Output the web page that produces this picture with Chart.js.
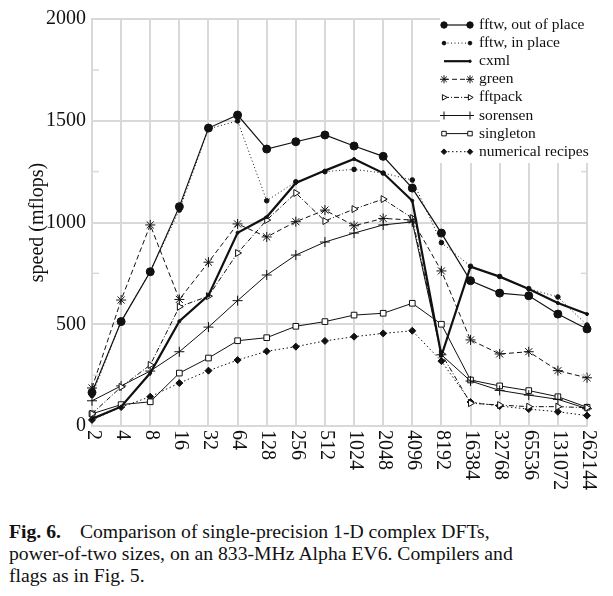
<!DOCTYPE html>
<html>
<head>
<meta charset="utf-8">
<script src="https://cdn.jsdelivr.net/npm/chart.js@4.4.1/dist/chart.umd.min.js"></script>
<style>
  html, body { margin: 0; padding: 0; background: #fff; }
  #wrap { position: relative; width: 613px; height: 596px; }
  canvas { position: absolute; left: 0; top: 0; }
  #caption { position: absolute; left: 9px; top: 520px; width: 604px;
    font-family: "Liberation Serif", "Times New Roman", serif; font-size: 19.7px; line-height: 22px; color: #111; white-space: nowrap; }
  #caption b { margin-right: 14px; }
</style>
</head>
<body>
<div id="wrap">
  <canvas id="c" width="613" height="510"></canvas>
  <div id="caption"><b>Fig. 6.</b> Comparison of single-precision 1-D complex DFTs,<br>power-of-two sizes, on an 833-MHz Alpha EV6. Compilers and<br>flags as in Fig. 5.</div>
</div>
<script>
const categories = ['2','4','8','16','32','64','128','256','512','1024','2048','4096','8192','16384','32768','65536','131072','262144'];
const seriesNames = ['fftw, out of place','fftw, in place','cxml','green','fftpack','sorensen','singleton','numerical recipes'];
const fftwOut   = [165, 513, 758, 1078, 1464, 1528, 1361, 1397, 1430, 1376, 1325, 1169, 948, 714, 653, 640, 550, 477];
const fftwIn    = [150, 515, 760, 1061, 1460, 1499, 1107, 1200, 1250, 1261, 1243, 1209, 901, 785, 735, 675, 634, 496];
const cxml      = [35, 95, 260, 515, 642, 950, 1027, 1194, 1255, 1312, 1243, 1107, 345, 783, 734, 673, 604, 550];
const green     = [187, 619, 988, 622, 805, 993, 929, 1004, 1061, 984, 1020, 1012, 762, 423, 354, 365, 272, 237];
const fftpack   = [60, 192, 300, 586, 638, 850, 1012, 1145, 1007, 1066, 1115, 1022, 355, 112, 103, 95, 95, 90];
const sorensen  = [124, 197, 270, 365, 486, 616, 742, 840, 904, 948, 988, 1003, 350, 221, 175, 152, 131, 85];
const singleton = [60, 105, 119, 260, 334, 419, 434, 490, 513, 545, 554, 603, 500, 226, 197, 174, 144, 92];
const numrec    = [30, 93, 144, 211, 272, 324, 367, 390, 418, 439, 455, 468, 319, 118, 98, 83, 70, 51];
const yTicksMajor = [0, 500, 1000, 1500, 2000];

const INK = '#111';
const GRID = '#d9d9d9';
const SERIF = '"Liberation Serif", "Times New Roman", serif';

function ds(label, data, o) {
  return Object.assign({
    label, data,
    borderColor: INK, backgroundColor: INK,
    pointBackgroundColor: INK, pointBorderColor: INK,
    pointBorderWidth: 1, borderWidth: 1, tension: 0, fill: false,
    pointHoverRadius: 0
  }, o);
}

const datasets = [
  ds(seriesNames[0], fftwOut,   { borderWidth: 1.2, pointStyle: 'circle', pointRadius: 4 }),
  ds(seriesNames[1], fftwIn,    { borderDash: [1, 2.5], pointStyle: 'circle', pointRadius: 2.3 }),
  ds(seriesNames[2], cxml,      { borderWidth: 2.2, pointStyle: 'circle', pointRadius: 1.5 }),
  ds(seriesNames[3], green,     { borderDash: [5, 3], pointStyle: 'star', pointRadius: 5 }),
  ds(seriesNames[4], fftpack,   { borderDash: [5, 2, 1, 2], pointStyle: 'triangle', pointRotation: 90, pointRadius: 4, pointBackgroundColor: '#fff' }),
  ds(seriesNames[5], sorensen,  { pointStyle: 'cross', pointRadius: 5 }),
  ds(seriesNames[6], singleton, { pointStyle: 'rect', pointRadius: 4, pointBackgroundColor: '#fff' }),
  ds(seriesNames[7], numrec,    { borderDash: [1.5, 2.5], pointStyle: 'rectRot', pointRadius: 3.5 })
];

const decorPlugin = {
  id: 'decor',
  afterDraw(chart) {
    const ctx = chart.ctx, a = chart.chartArea;
    const xs = chart.scales.x, ys = chart.scales.y;
    ctx.save();
    // minor ticks (inside) on left and right
    ctx.strokeStyle = GRID; ctx.lineWidth = 1.5;
    for (let v = 250; v < 2000; v += 500) {
      const y = ys.getPixelForValue(v);
      ctx.beginPath(); ctx.moveTo(a.left, y); ctx.lineTo(a.left + 7, y); ctx.stroke();
      ctx.beginPath(); ctx.moveTo(a.right - 6, y); ctx.lineTo(a.right, y); ctx.stroke();
    }
    // x labels rotated clockwise
    ctx.fillStyle = INK;
    ctx.font = '20px "Liberation Serif"';
    ctx.textAlign = 'left'; ctx.textBaseline = 'middle';
    categories.forEach((lab, i) => {
      const x = xs.getPixelForValue(i);
      ctx.save();
      ctx.translate(x + 1, a.bottom + 4);
      ctx.rotate(Math.PI / 2);
      ctx.fillText(xs.getLabelForValue(i), 0, 0);
      ctx.restore();
    });
    // legend
    ctx.fillStyle = '#fff';
    ctx.fillRect(440, a.top - 3, chart.width - 440, 163 - (a.top - 3));
    const dp = (Chart.helpers && Chart.helpers.drawPoint) ? Chart.helpers.drawPoint : null;
    chart.data.datasets.forEach((d, i) => {
      const y = 25 + i * 18.1;
      const x0 = 444, x1 = 470;
      ctx.strokeStyle = d.borderColor; ctx.lineWidth = d.borderWidth;
      ctx.setLineDash(d.borderDash || []);
      ctx.beginPath(); ctx.moveTo(x0, y); ctx.lineTo(x1, y); ctx.stroke();
      ctx.setLineDash([]);
      ctx.fillStyle = d.pointBackgroundColor; ctx.strokeStyle = d.pointBorderColor; ctx.lineWidth = 1;
      const o = { pointStyle: d.pointStyle, radius: d.pointRadius * 0.8, rotation: d.pointRotation || 0, borderWidth: 1 };
      if (dp) {
        if (d.label !== 'cxml') dp(ctx, o, x0, y);
        dp(ctx, o, x1, y);
      }
      ctx.fillStyle = INK;
      ctx.font = '15.5px "Liberation Serif"';
      ctx.textAlign = 'left'; ctx.textBaseline = 'middle';
      ctx.fillText(d.label, 479, y);
    });
    ctx.restore();
  }
};

new Chart(document.getElementById('c'), {
  type: 'line',
  data: { labels: categories, datasets },
  options: {
    responsive: false,
    animation: false,
    devicePixelRatio: 1,
    layout: { padding: { left: 0, right: 26, top: 19, bottom: 0 } },
    plugins: { legend: { display: false }, tooltip: { enabled: false } },
    scales: {
      x: {
        type: 'category',
        offset: false,
        afterFit(s) { s.height = 84; },
        grid: { color: GRID, lineWidth: 2, drawTicks: false },
        border: { display: true, color: GRID, width: 2 },
        ticks: { display: false }
      },
      y: {
        min: 0, max: 2000,
        afterFit(s) { s.width = 92; },
        afterBuildTicks(s) {
          const t = [];
          for (let v = 0; v <= 2000; v += 250) t.push({ value: v });
          s.ticks = t;
        },
        grid: {
          color: c => (c.tick && yTicksMajor.includes(c.tick.value)) ? GRID : 'rgba(0,0,0,0)',
          lineWidth: 2, drawTicks: false
        },
        border: { display: true, color: GRID, width: 2 },
        ticks: {
          autoSkip: false, padding: 6, color: INK,
          font: { family: SERIF, size: 20 },
          callback: v => yTicksMajor.includes(v) ? String(v) : ''
        },
        title: {
          display: true, text: 'speed (mflops)', color: INK,
          font: { family: SERIF, size: 20 },
          padding: { top: 26, bottom: 0 }
        }
      }
    }
  },
  plugins: [decorPlugin]
});
</script>
</body>
</html>
